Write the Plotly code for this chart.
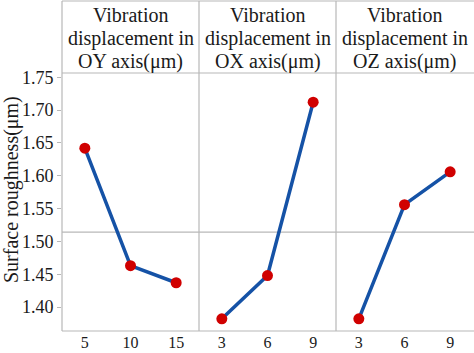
import plotly.graph_objects as go

W, H = 474, 353

# Data
oy_levels = [5, 10, 15]
oy_values = [1.642, 1.463, 1.437]
ox_levels = [3, 6, 9]
ox_values = [1.382, 1.448, 1.712]
oz_levels = [3, 6, 9]
oz_values = [1.382, 1.556, 1.606]
panel_titles = [
    ["Vibration", "displacement in", "OY axis(μm)"],
    ["Vibration", "displacement in", "OX axis(μm)"],
    ["Vibration", "displacement in", "OZ axis(μm)"],
]
y_ticks = [1.40, 1.45, 1.50, 1.55, 1.60, 1.65, 1.70, 1.75]
all_vals = oy_values + ox_values + oz_values
mean_val = sum(all_vals) / len(all_vals)

FONT = "Liberation Serif"
GRID = "#b8b8b8"
LINE = "#1552a6"
MARK = "#d00000"


def px(x):
    return x / W


def py(y):
    return 1 - y / H


x_left, x_d1, x_d2, x_right = 62, 199, 336, 473
y_top_hdr, y_top, y_bot = 1, 73, 331

fig = go.Figure()

series = [(oy_levels, oy_values), (ox_levels, ox_values), (oz_levels, oz_values)]
for i, (xs, ys) in enumerate(series):
    suffix = "" if i == 0 else str(i + 1)
    fig.add_trace(go.Scatter(
        x=xs, y=ys, mode="lines+markers",
        line=dict(color=LINE, width=3.5),
        marker=dict(color=MARK, size=11),
        xaxis="x" + suffix, yaxis="y" + suffix,
        showlegend=False, hoverinfo="x+y",
    ))

yrange = [1.3635, 1.7565]
bounds = [(x_left, x_d1), (x_d1, x_d2), (x_d2, x_right)]
xranges = [[2.5, 17.5], [1.5, 10.5], [1.5, 10.5]]

layout = dict(
    template="none",
    width=W, height=H,
    margin=dict(l=0, r=0, t=0, b=0, autoexpand=False),
    paper_bgcolor="white", plot_bgcolor="white",
    font=dict(family=FONT, size=18, color="#1a1a1a"),
)

for i in range(3):
    suffix = "" if i == 0 else str(i + 1)
    x0, x1 = bounds[i]
    layout["xaxis" + suffix] = dict(
        domain=[px(x0), px(x1)], range=xranges[i],
        tickvals=series[i][0], ticktext=[str(v) for v in series[i][0]],
        showgrid=False, zeroline=False, showline=False, ticks="",
        automargin=False, ticklabelstandoff=0,
        anchor="y" + suffix, tickfont=dict(size=16, family=FONT),
        fixedrange=True,
    )
    ya = dict(
        domain=[py(y_bot), py(y_top)], range=yrange,
        showgrid=False, zeroline=False, showline=False, automargin=False,
        anchor="x" + suffix, fixedrange=True,
    )
    if i == 0:
        ya.update(tickvals=y_ticks, ticktext=["%.2f" % v for v in y_ticks],
                  ticks="outside", ticklen=4, tickcolor=GRID,
                  tickfont=dict(size=18, family=FONT))
    else:
        ya.update(showticklabels=False, ticks="", matches="y")
    layout["yaxis" + suffix] = ya

shapes = []
def hline(xa, xb, y):
    shapes.append(dict(type="line", xref="paper", yref="paper",
                       x0=px(xa), x1=px(xb), y0=py(y), y1=py(y),
                       line=dict(color=GRID, width=1.2)))

def vline(x, ya, yb):
    shapes.append(dict(type="line", xref="paper", yref="paper",
                       x0=px(x), x1=px(x), y0=py(ya), y1=py(yb),
                       line=dict(color=GRID, width=1.2)))

hline(x_left, W, y_top_hdr)
hline(x_left, W, y_top)
hline(x_left, W, y_bot)
vline(x_left, y_top_hdr, y_bot)
vline(x_d1, y_top_hdr, y_bot)
vline(x_d2, y_top_hdr, y_bot)
# mean reference line
shapes.append(dict(type="line", xref="paper", yref="y",
                   x0=px(x_left), x1=1, y0=mean_val, y1=mean_val,
                   line=dict(color=GRID, width=1.2), layer="below"))
layout["shapes"] = shapes

anns = []
line_ys = [15, 38, 61]
for i, lines in enumerate(panel_titles):
    x0, x1 = bounds[i]
    cx = (x0 + x1) / 2
    for ly, txt in zip(line_ys, lines):
        anns.append(dict(text=txt, x=px(cx), y=py(ly), xref="paper", yref="paper",
                         xanchor="center", yanchor="middle", showarrow=False,
                         font=dict(size=20, family=FONT, color="#1a1a1a")))
anns.append(dict(text="Surface roughness(μm)", x=px(12), y=py(190),
                 xref="paper", yref="paper", xanchor="center", yanchor="middle",
                 textangle=-90, showarrow=False,
                 font=dict(size=20, family=FONT, color="#1a1a1a")))
layout["annotations"] = anns

fig.update_layout(**layout)
fig.write_html("out.html")
